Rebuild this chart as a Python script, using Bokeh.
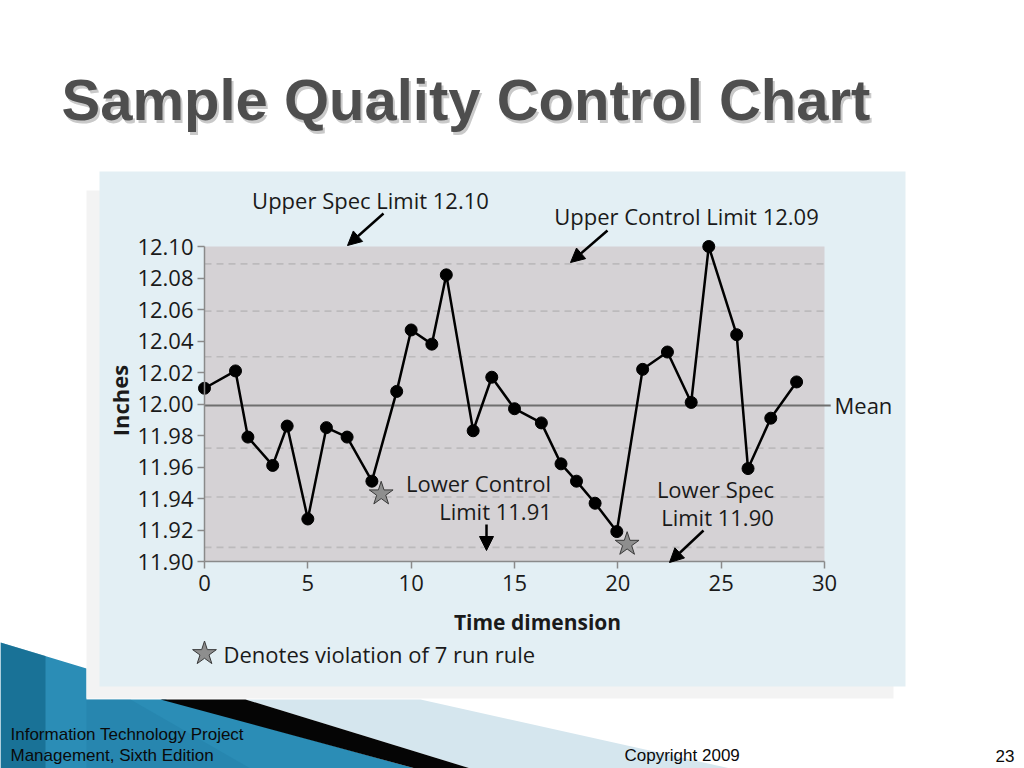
from bokeh.plotting import figure
from bokeh.models import (Range1d, LinearAxis, FixedTicker, Label, Arrow,
                          NormalHead, NumeralTickFormatter)
from bokeh.embed import file_html
from bokeh.resources import INLINE

# ---------------- data ----------------
sample_time = [0, 1.5, 2.1, 3.3, 4.0, 5.0, 5.9, 6.9, 8.1, 9.3, 10.0, 11.0, 11.7,
               13.0, 13.9, 15.0, 16.3, 17.25, 18.0, 18.9, 19.95, 21.2, 22.4,
               23.55, 24.4, 25.75, 26.3, 27.4, 28.65]
sample_inches = [12.010, 12.021, 11.979, 11.961, 11.986, 11.927, 11.985, 11.979,
                 11.951, 12.008, 12.047, 12.038, 12.082, 11.983, 12.017, 11.997,
                 11.988, 11.962, 11.951, 11.937, 11.919, 12.022, 12.033, 12.001,
                 12.100, 12.044, 11.959, 11.991, 12.014]
violation_time = [8.55, 20.45]
violation_inches = [11.943, 11.911]
limit_lines = [12.089, 12.059, 12.030, 11.972, 11.941, 11.909]
mean_value = 11.999
x_ticks = [0, 5, 10, 15, 20, 25, 30]
y_ticks = [11.90, 11.92, 11.94, 11.96, 11.98, 12.00, 12.02, 12.04, 12.06, 12.08, 12.10]
X_LO, X_HI = 0, 30
Y_LO, Y_HI = 11.90, 12.10

# ---------------- page geometry (window pixels) ----------------
PAGE_W, PAGE_H, M = 1024, 768, 0
BOX_L, BOX_R, BOX_T, BOX_B = 204, 824, 246, 561

sx = (BOX_R - BOX_L) / (X_HI - X_LO)
sy = (BOX_B - BOX_T) / (Y_HI - Y_LO)
x_start = X_LO - (BOX_L - M) / sx
x_end = X_LO + (M + PAGE_W - BOX_L) / sx
y_end = Y_HI + (BOX_T - M) / sy
y_start = Y_LO - (M + PAGE_H - BOX_B) / sy

p = figure(width=PAGE_W, height=PAGE_H, x_range=Range1d(x_start, x_end),
           y_range=Range1d(y_start, y_end), x_axis_type=None, y_axis_type=None,
           toolbar_location=None, output_backend="svg", min_border=0,
           title=None)
p.outline_line_color = None
p.background_fill_color = "white"
p.border_fill_color = "white"
# pixel ranges (window coords, y downward) for slide decorations
p.extra_x_ranges = {"px": Range1d(M, M + PAGE_W)}
p.extra_y_ranges = {"py": Range1d(M + PAGE_H, M)}
PX = dict(x_range_name="px", y_range_name="py")

# ---------------- slide decorations ----------------
p.patch([0, 86, 86, 165, 415, 0], [642, 668, 699, 699, 768, 768],
        fill_color="#2b8db6", line_color=None, **PX)
p.patch([0, 45, 45, 0], [642, 655.6, 768, 768],
        fill_color="#0b5d7e", fill_alpha=0.55, line_color=None, **PX)
p.patch([86, 130, 250, 86], [699, 699, 768, 768],
        fill_color="#1f7ca3", fill_alpha=0.35, line_color=None, **PX)
p.patch([245, 420, 730, 470], [699, 699, 768, 768],
        fill_color="#d5e6ee", line_color=None, **PX)
p.patch([160, 245, 470, 415], [699, 699, 768, 768],
        fill_color="#050505", line_color=None, **PX)
# panel shadow and panel
p.quad(left=86, right=893, top=190, bottom=698, fill_color="#f3f3f3",
       line_color=None, **PX)
p.quad(left=99, right=905, top=171, bottom=686, fill_color="#e3eff4",
       line_color=None, **PX)

# ---------------- chart ----------------
p.quad(left=X_LO, right=X_HI, bottom=Y_LO, top=Y_HI, fill_color="#d5d2d5",
       line_color=None)
p.segment(x0=[X_LO] * len(limit_lines), x1=[X_HI] * len(limit_lines),
          y0=limit_lines, y1=limit_lines, line_color="#bcbabc",
          line_width=1.6, line_dash="7 5")
p.segment(x0=[X_LO], x1=[X_HI + 0.3], y0=[mean_value], y1=[mean_value],
          line_color="#6f6f6f", line_width=2)
p.line(sample_time, sample_inches, line_color="black", line_width=2.5)
p.scatter(sample_time, sample_inches, size=12, fill_color="black",
          line_color="black")
p.scatter(violation_time, violation_inches, marker="star", size=25,
          fill_color="#8e8e8e", line_color="#3a3a3a", line_width=1)

FONT = "Open Sans"
yax = LinearAxis(fixed_location=X_LO, bounds=(Y_LO, Y_HI),
                 ticker=FixedTicker(ticks=y_ticks),
                 formatter=NumeralTickFormatter(format="0.00"))
xax = LinearAxis(fixed_location=Y_LO, bounds=(X_LO, X_HI),
                 ticker=FixedTicker(ticks=x_ticks))
for ax in (yax, xax):
    ax.axis_line_color = "#8a8a8a"
    ax.axis_line_width = 1.5
    ax.major_tick_line_color = "#8a8a8a"
    ax.major_tick_line_width = 1.5
    ax.major_tick_in = 0
    ax.major_tick_out = 7
    ax.minor_tick_line_color = None
    ax.major_label_text_font = FONT
    ax.major_label_text_font_size = "22px"
    ax.major_label_text_color = "#1a1a1a"
yax.major_label_standoff = 4
xax.major_label_standoff = 6
p.add_layout(yax, "left")
p.add_layout(xax, "below")

# ---------------- texts ----------------
def lab(text, x, y, size="22px", align="center", base="middle", font=FONT,
        style="normal", color="#1a1a1a", angle=0):
    p.add_layout(Label(x=x, y=y, text=text, text_font=font,
                       text_font_size=size, text_align=align,
                       text_baseline=base, text_font_style=style,
                       text_color=color, angle=angle, **PX))

# title with soft shadow
lab("Sample Quality Control Chart", 63, 102, size="58px", align="left",
    font="Liberation Sans", style="bold", color="#c9c9c9")
lab("Sample Quality Control Chart", 61, 99, size="58px", align="left",
    font="Liberation Sans", style="bold", color="#4e4e4e")

lab("Upper Spec Limit 12.10", 370, 199)
lab("Upper Control Limit 12.09", 686, 215)
lab("Lower Control", 478, 482)
lab("Limit 11.91", 495, 510)
lab("Lower Spec", 715, 488)
lab("Limit 11.90", 717, 516)
lab("Mean", 834, 404, align="left")
lab("Inches", 119, 400, style="bold", angle=1.5708)
lab("Time dimension", 537, 621, size="21px", style="bold")
lab("Denotes violation of 7 run rule", 223, 653, align="left")
p.scatter([204], [653], marker="star", size=25, fill_color="#8e8e8e",
          line_color="#3a3a3a", line_width=1, **PX)

lab("Information Technology Project", 10, 734, size="17px", align="left",
    font="Liberation Sans", color="#0a0a0a")
lab("Management, Sixth Edition", 10, 755, size="17px", align="left",
    font="Liberation Sans", color="#0a0a0a")
lab("Copyright 2009", 624, 755, size="17px", align="left",
    font="Liberation Sans", color="#0a0a0a")
lab("23", 995, 755, size="17px", align="left", font="Liberation Sans",
    color="#0a0a0a")

# ---------------- arrows ----------------
arrows = [((383, 213), (347, 245)),
          ((607, 230), (570, 262)),
          ((486, 524), (486, 550)),
          ((703, 530), (669, 562))]
for (x0, y0), (x1, y1) in arrows:
    p.add_layout(Arrow(x_start=x0, y_start=y0, x_end=x1, y_end=y1,
                       line_color="black", line_width=2.5,
                       end=NormalHead(size=14, fill_color="black",
                                      line_color="black"),
                       x_range_name="px", y_range_name="py"))

open("out.html", "w").write(file_html(p, INLINE))
